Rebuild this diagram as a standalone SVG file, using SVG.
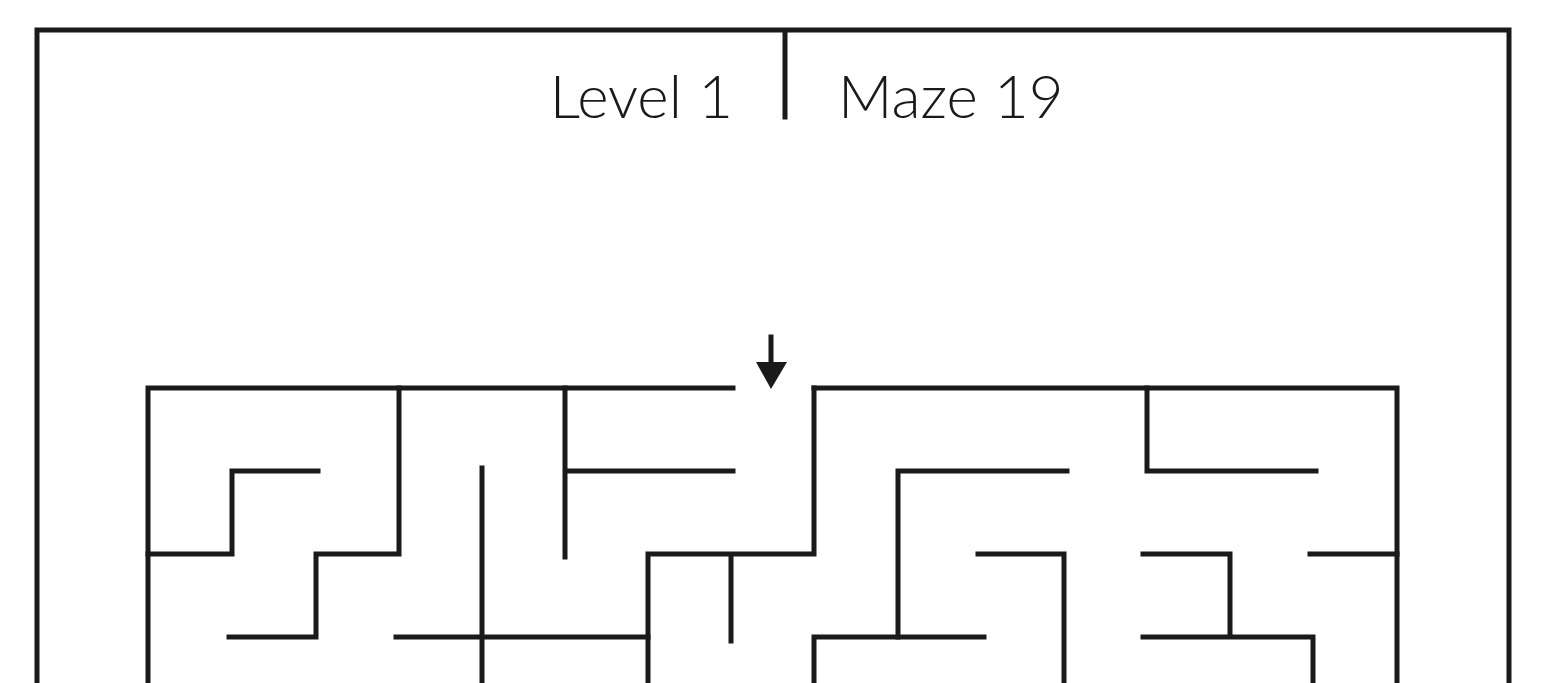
<svg xmlns="http://www.w3.org/2000/svg" width="1545" height="683" viewBox="0 0 1545 683">
<style>
.w{stroke:#1a1a1a;stroke-width:5;fill:none;stroke-linecap:square}
.t{font-family:Lato,"Liberation Sans",sans-serif;font-weight:300;font-size:60px;fill:#1a1a1a}
</style>
<rect width="1545" height="683" fill="#fff"/>
<path class="w" d="M37,700V30H1509V700M785,30V117"/>
<text class="t" x="733" y="118" text-anchor="end">Level 1</text>
<text class="t" x="838" y="118">Maze 19</text>
<g id="arrow"><path class="w" d="M771,337V362"/><polygon points="756,362 787,362 771,389" fill="#1a1a1a"/></g>
<g id="maze" class="w">
<path d="M733,388H148V700M814,700V637H984M814,388H1397V700"/>
<path d="M399,388V554H316V637H229"/>
<path d="M565,388V557M565,471H733"/>
<path d="M318,471H232V554H148"/>
<path d="M482,468V700M396,637H648"/>
<path d="M648,700V554H814V388M731,554V641"/>
<path d="M898,637V471H1067"/>
<path d="M978,554H1064V700"/>
<path d="M1147,388V471H1316"/>
<path d="M1143,554H1230V637M1143,637H1313V700"/>
<path d="M1310,554H1397"/>
</g>
</svg>
